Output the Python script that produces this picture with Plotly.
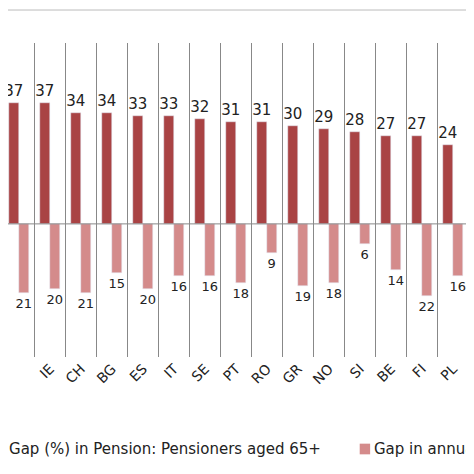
import plotly.graph_objects as go

countries = ["CY", "IE", "CH", "BG", "ES", "IT", "SE", "PT", "RO", "GR",
             "NO", "SI", "BE", "FI", "PL", "IS"]
pension_gap = [37, 37, 34, 34, 33, 33, 32, 31, 31, 30, 29, 28, 27, 27, 24, 23]
earnings_gap = [21, 20, 21, 15, 20, 16, 16, 18, 9, 19, 18, 6, 14, 22, 16, 25]

_RED = "#a94344"
_PINK = "#d48b8b"
_FONT = "DejaVu Sans"

x_idx = list(range(len(countries)))

fig = go.Figure()
fig.add_trace(go.Bar(
    x=x_idx, y=pension_gap, width=0.32, offset=-0.32,
    marker_color=_RED, text=pension_gap, textposition="outside",
    constraintext="none",
    textfont=dict(size=15, color="#222"), cliponaxis=False,
    name="Gender Gap (%) in Pension: Pensioners aged 65+",
))
fig.add_trace(go.Bar(
    x=x_idx, y=[-v for v in earnings_gap], width=0.32, offset=0,
    marker_color=_PINK, text=earnings_gap, textposition="outside",
    constraintext="none",
    textfont=dict(size=13, color="#222"), cliponaxis=False,
    name="Gap in annual earnings",
))

fig.update_layout(
    width=474, height=474,
    plot_bgcolor="#fff", paper_bgcolor="#fff",
    showlegend=False,
    margin=dict(l=0, r=0, t=35, b=125),
    font=dict(family=_FONT, color="#222"),
    bargap=0,
)
fig.update_xaxes(
    range=[-0.355, 14.935], automargin=False,
    tickvals=x_idx, ticktext=countries, tickangle=-45,
    tickfont=dict(size=14), showgrid=False, zeroline=False, ticks="",
    minor=dict(tickvals=[i + 0.5 for i in x_idx], showgrid=True,
               gridcolor="#888", gridwidth=1, ticks=""),
)
fig.update_yaxes(
    range=[-40.7, 55.3], visible=False, showgrid=False, automargin=False,
    zeroline=True, zerolinecolor="#888", zerolinewidth=1,
)
fig.add_hline(y=0, line_color="#888", line_width=1)

# frame edge at top and legend row
fig.add_shape(type="line", xref="paper", yref="paper", x0=0, x1=1,
              y0=1.105, y1=1.105, line=dict(color="#bbb", width=1))
fig.add_annotation(text="Gender Gap (%) in Pension: Pensioners aged 65+",
                   xref="paper", yref="paper", x=0.665, y=-0.293,
                   xanchor="right", yanchor="middle", showarrow=False,
                   font=dict(size=15))
fig.add_shape(type="rect", xref="paper", yref="paper",
              x0=0.742, x1=0.764, y0=-0.31, y1=-0.276,
              fillcolor=_PINK, line_width=0)
fig.add_annotation(text="Gap in annual earnings",
                   xref="paper", yref="paper", x=0.768, y=-0.293,
                   xanchor="left", yanchor="middle", showarrow=False,
                   font=dict(size=15))

fig.write_html("out.html")
